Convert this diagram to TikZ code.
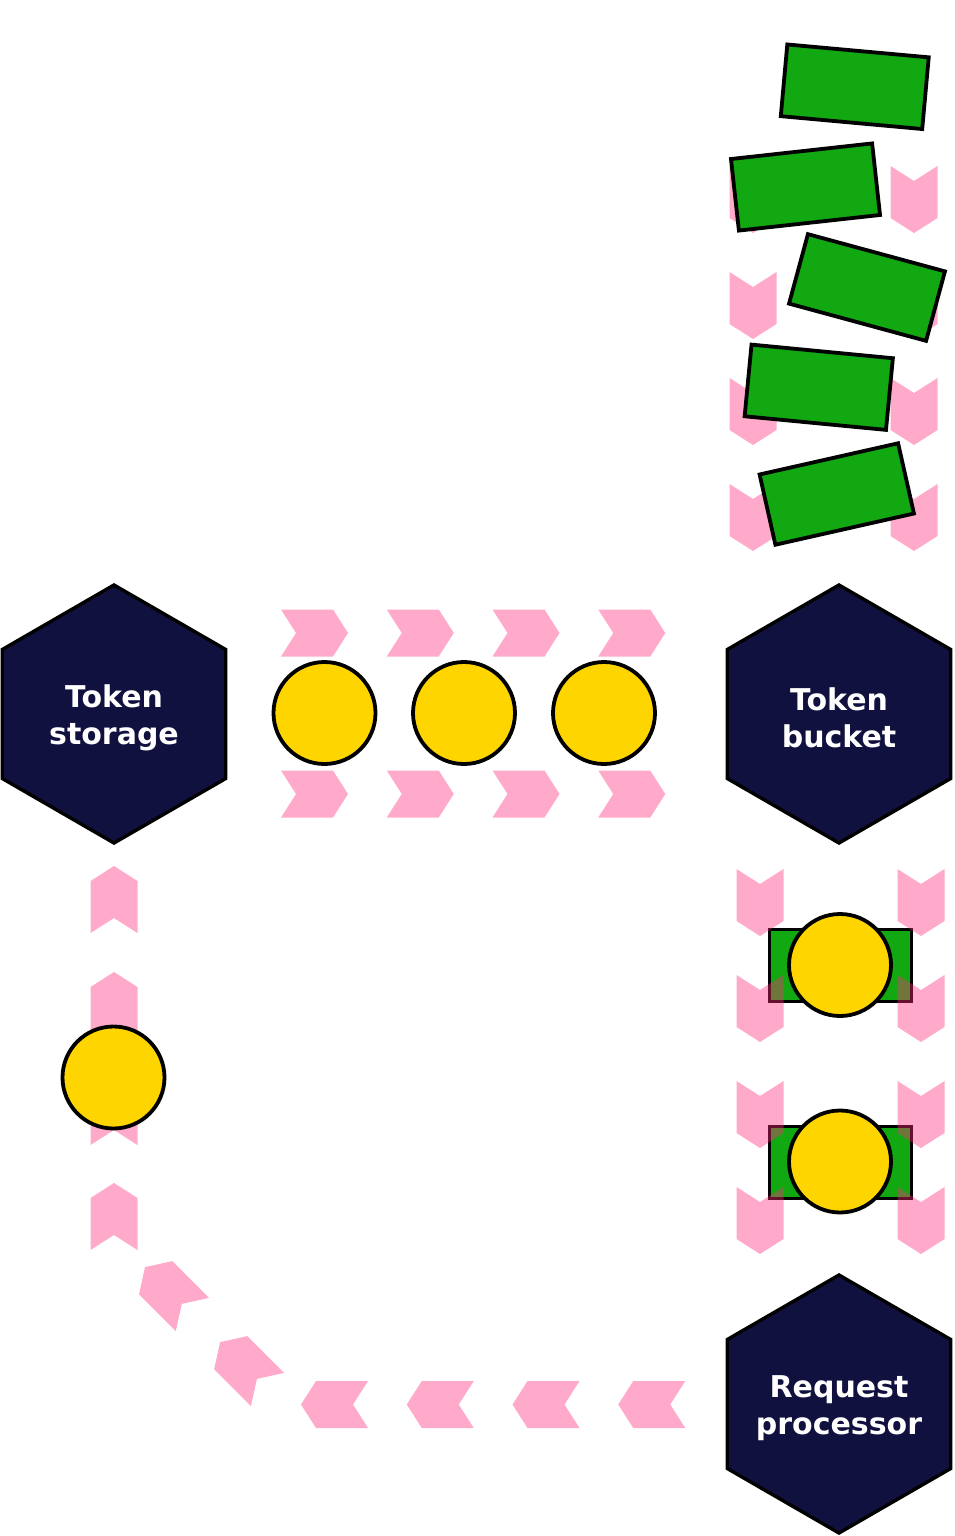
\documentclass[tikz,border=0pt]{standalone}
\usepackage{fontspec}
\setmainfont{DejaVu Sans}
\usetikzlibrary{shapes.geometric}
\definecolor{navy}{RGB}{17,17,64}
\definecolor{tokgreen}{RGB}{17,168,17}
\definecolor{coin}{RGB}{255,213,0}
\definecolor{chevpink}{RGB}{255,42,122}
\newcommand{\topstrut}{\rule{0pt}{31pt}}
\tikzset{
  hexnode/.style={regular polygon, regular polygon sides=6, shape border rotate=30,
    minimum size=258pt, inner sep=0pt, draw=black, line width=3.4pt, fill=navy},
  hexlabel/.style={text=white, font=\bfseries\fontsize{30}{37}\selectfont, align=center, inner sep=0pt},
  coinnode/.style={circle, minimum size=102pt, inner sep=0pt, draw=black, line width=3.8pt, fill=coin},
  tokrect/.style={rectangle, minimum width=142pt, minimum height=72pt, inner sep=0pt,
    draw=black, line width=3.8pt, fill=tokgreen},
  chev/.pic={\fill[chevpink, fill opacity=0.4] (-33.5,-23.5) -- (18.5,-23.5) -- (33.5,0)
    -- (18.5,23.5) -- (-33.5,23.5) -- (-18.5,0) -- cycle;}
}
\begin{document}
\begin{tikzpicture}[x=1pt,y=-1pt]
\useasboundingbox (0,0) rectangle (954,1536);
% right column, top: chevrons behind tokens
\foreach \yy in {199.5,305.5,411.5,517.5}{
  \pic[rotate=-90] at (753,\yy) {chev};
  \pic[rotate=-90] at (914,\yy) {chev};
}
\node[tokrect, rotate=-5.2] (t1) at (854.75,86.75) {};
\node[tokrect, rotate=6.3] (t2) at (805.5,187) {};
\node[tokrect, rotate=-15.2] (t3) at (867,287.5) {};
\node[tokrect, rotate=-5.5] (t4) at (818.75,387.25) {};
\node[tokrect, rotate=12.7] (t5) at (836.75,494) {};
% hexagons
\node[hexnode] (storage) at (114,714) {};
\node[hexlabel] (storageL) at (storage.center) {\topstrut Token\\storage};
\node[hexnode] (bucket) at (839,714) {};
\node[hexlabel] (bucketL) at (bucket.center) {\topstrut Token\\bucket};
\node[hexnode] (proc) at (839,1404) {};
\node[hexlabel] (procL) at (proc.center) {\topstrut Request\\processor};
% top row
\foreach \xx in {314.5,420.25,526,631.75}{
  \pic at (\xx,633) {chev};
  \pic at (\xx,794) {chev};
}
\node[coinnode] (c1) at (324.5,713) {};
\node[coinnode] (c2) at (464,713) {};
\node[coinnode] (c3) at (604,713) {};
% right column, bottom
\node[tokrect] (b1) at (840.5,965.5) {};
\node[tokrect] (b2) at (840.5,1162.5) {};
\foreach \yy in {902.5,1008.5,1114.5,1220.5}{
  \pic[rotate=-90] at (760,\yy) {chev};
  \pic[rotate=-90] at (921,\yy) {chev};
}
\node[coinnode] (c4) at (840,965) {};
\node[coinnode] (c5) at (840,1161.5) {};
% return path
\foreach \xx in {334.5,440.25,546,651.75}{
  \pic[rotate=180] at (\xx,1404.5) {chev};
}
\pic[rotate=135] at (243.8,1365.8) {chev};
\pic[rotate=135] at (168.7,1290.8) {chev};
\foreach \yy in {899.5,1005.5,1111.5,1216.5}{
  \pic[rotate=90] at (114,\yy) {chev};
}
\node[coinnode] (c6) at (113.5,1077.5) {};
% faint label at top
\node[hexlabel] (ghost) at (561,30) {\topstrut Token\\storage};
\end{tikzpicture}
\end{document}
